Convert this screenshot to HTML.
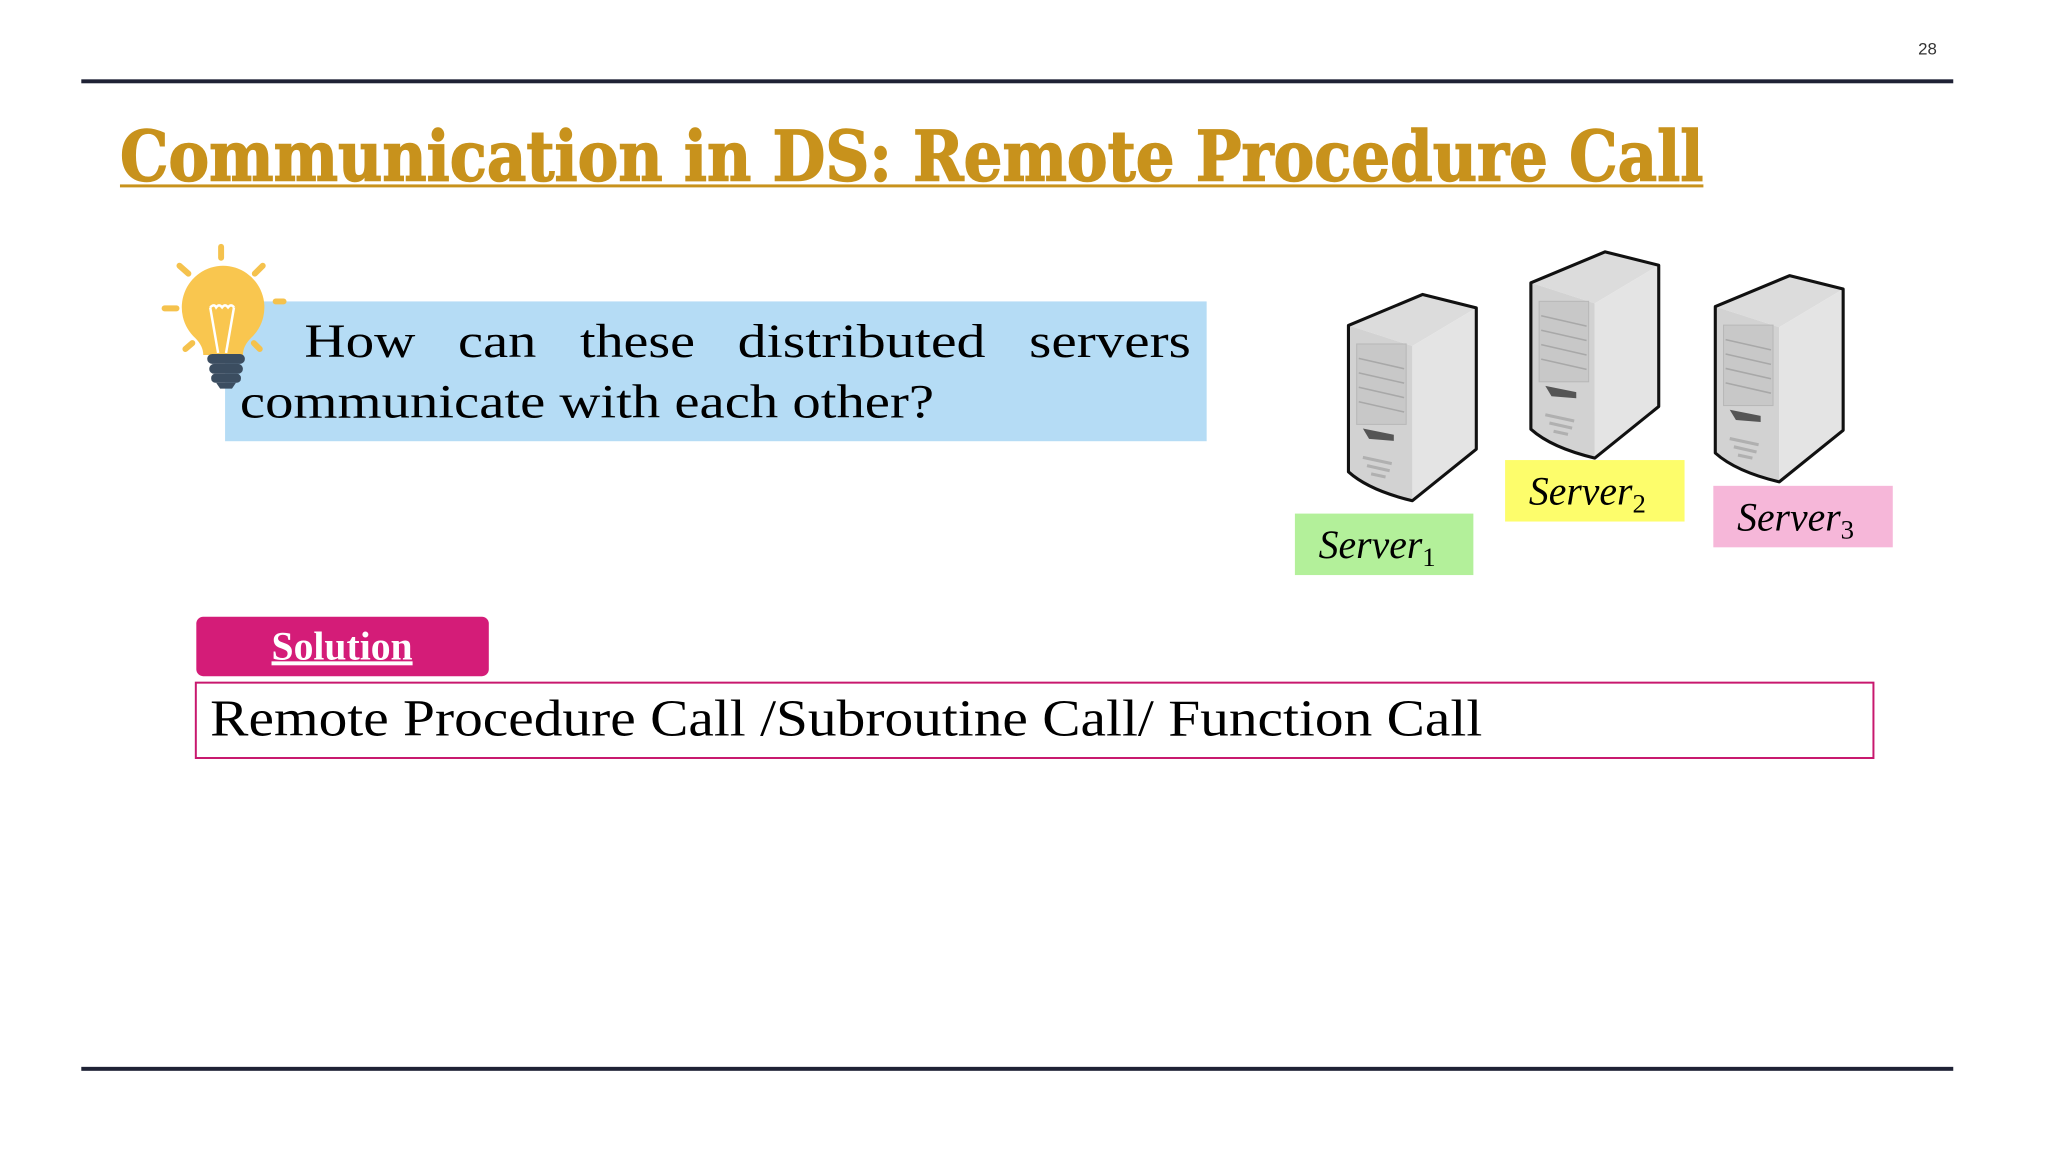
<!DOCTYPE html>
<html><head><meta charset="utf-8"><style>
html,body{margin:0;padding:0;background:#fff}
svg{display:block}
</style></head><body>
<svg width="2048" height="1152" viewBox="0 0 2048 1152" xmlns="http://www.w3.org/2000/svg">
<defs>
<g id="srv">
  <path d="M0,30 L72,0 L124,13 L62,50 Z" fill="#dcdcdc"/>
  <path d="M0,30 L62,50 L62,200 Q20,190 0,172 Z" fill="#d2d2d2"/>
  <path d="M62,50 L124,13 L124,150 L62,200 Z" fill="#e4e4e4"/>
  <rect x="8" y="48" width="48" height="78" fill="#c8c8c8" stroke="#b8b8b8"/>
  <g stroke="#a8a8a8" stroke-width="1.5"><line x1="10" y1="62" x2="54" y2="72"/><line x1="10" y1="76" x2="54" y2="86"/><line x1="10" y1="90" x2="54" y2="100"/><line x1="10" y1="104" x2="54" y2="114"/></g>
  <path d="M14,130 L44,136 L44,142 L20,140 Z" fill="#555"/>
  <g stroke="#b0b0b0" stroke-width="3"><line x1="14" y1="158" x2="42" y2="164"/><line x1="18" y1="166" x2="40" y2="171"/><line x1="22" y1="174" x2="36" y2="177"/></g>
  <path d="M0,30 L72,0 L124,13 L124,150 L62,200 Q20,190 0,172 Z" fill="none" stroke="#111" stroke-width="3" stroke-linejoin="round"/>
</g>
</defs>
<g transform="scale(0.9915)">
<text x="1944" y="55" font-family="Liberation Sans, sans-serif" font-size="17" fill="#333" text-anchor="middle">28</text>
<rect x="82" y="80" width="1888" height="4" fill="#1f2235"/>
<rect x="82" y="1076" width="1888" height="4" fill="#1f2235"/>
<text x="121" y="182" font-family="DejaVu Serif, serif" font-weight="bold" font-size="70" fill="#c8921c" stroke="#c8921c" stroke-width="1.5" textLength="1597" lengthAdjust="spacingAndGlyphs">Communication in DS: Remote Procedure Call</text>
<rect x="121" y="186" width="1597" height="3" fill="#c8921c"/>
<rect x="227" y="304" width="990" height="141" fill="#b5dcf5"/>
<!-- bulb -->
<g stroke="#f5c24d" stroke-width="6" stroke-linecap="round">
<line x1="223" y1="249" x2="223" y2="260"/><line x1="181" y1="268" x2="190" y2="276"/><line x1="265" y1="268" x2="257" y2="276"/>
<line x1="166" y1="311" x2="178" y2="311"/><line x1="278" y1="304" x2="286" y2="304"/><line x1="187" y1="352" x2="194" y2="346"/><line x1="262" y1="352" x2="256" y2="346"/>
</g>
<path d="M225,268 a42,42 0 0 1 28,73 q-8,8 -8,17 h-40 q0,-9 -8,-17 a42,42 0 0 1 28,-73 z" fill="#f9c64f"/>
<path d="M212,310 l8,46 M236,310 l-8,46 M212,310 q4,-4 6,0 q3,-4 6,0 q3,-4 6,0 q3,-4 6,0" stroke="#fff" stroke-width="2.5" fill="none"/>
<rect x="209" y="357" width="38" height="10" rx="5" fill="#3b4d60"/>
<rect x="211" y="367" width="34" height="10" rx="5" fill="#3b4d60"/>
<rect x="213" y="377" width="30" height="9" rx="4" fill="#3b4d60"/>
<path d="M218,386 h20 l-4,6 h-12 z" fill="#3b4d60"/>
<g font-family="Liberation Serif, serif" font-size="48" fill="#000">
<text x="307" y="360" textLength="112" lengthAdjust="spacingAndGlyphs">How</text>
<text x="462" y="360" textLength="79" lengthAdjust="spacingAndGlyphs">can</text>
<text x="585" y="360" textLength="116" lengthAdjust="spacingAndGlyphs">these</text>
<text x="744" y="360" textLength="250" lengthAdjust="spacingAndGlyphs">distributed</text>
<text x="1038" y="360" textLength="163" lengthAdjust="spacingAndGlyphs">servers</text>
<text x="242" y="421" textLength="700" lengthAdjust="spacingAndGlyphs">communicate with each other?</text>
</g>
<!-- servers -->
<use href="#srv" transform="translate(1360,297) scale(1.04)"/>
<use href="#srv" transform="translate(1544,254) scale(1.04)"/>
<use href="#srv" transform="translate(1730,278) scale(1.04)"/>
<rect x="1306" y="518" width="180" height="62" fill="#b3f09a"/>
<rect x="1518" y="464" width="181" height="62" fill="#fdfd6b"/>
<rect x="1728" y="490" width="181" height="62" fill="#f6b7d9"/>
<g font-family="Liberation Serif, serif" font-style="italic" font-size="40" fill="#000">
<text x="1330" y="563" textLength="118" lengthAdjust="spacingAndGlyphs">Server<tspan font-size="27" font-style="normal" dy="8">1</tspan></text>
<text x="1542" y="509" textLength="118" lengthAdjust="spacingAndGlyphs">Server<tspan font-size="27" font-style="normal" dy="8">2</tspan></text>
<text x="1752" y="535" textLength="118" lengthAdjust="spacingAndGlyphs">Server<tspan font-size="27" font-style="normal" dy="8">3</tspan></text>
</g>
<rect x="198" y="622" width="295" height="60" rx="7" fill="#d41c78"/>
<text x="345" y="665" font-family="Liberation Serif, serif" font-weight="bold" font-size="40" fill="#fff" text-anchor="middle" text-decoration="underline">Solution</text>
<rect x="197.5" y="688.5" width="1692" height="76" fill="none" stroke="#c8186e" stroke-width="2"/>
<text x="212" y="742" font-family="Liberation Serif, serif" font-size="52" fill="#000" textLength="1283" lengthAdjust="spacingAndGlyphs">Remote Procedure Call /Subroutine Call/ Function Call</text>
</g>
</svg>
</body></html>
